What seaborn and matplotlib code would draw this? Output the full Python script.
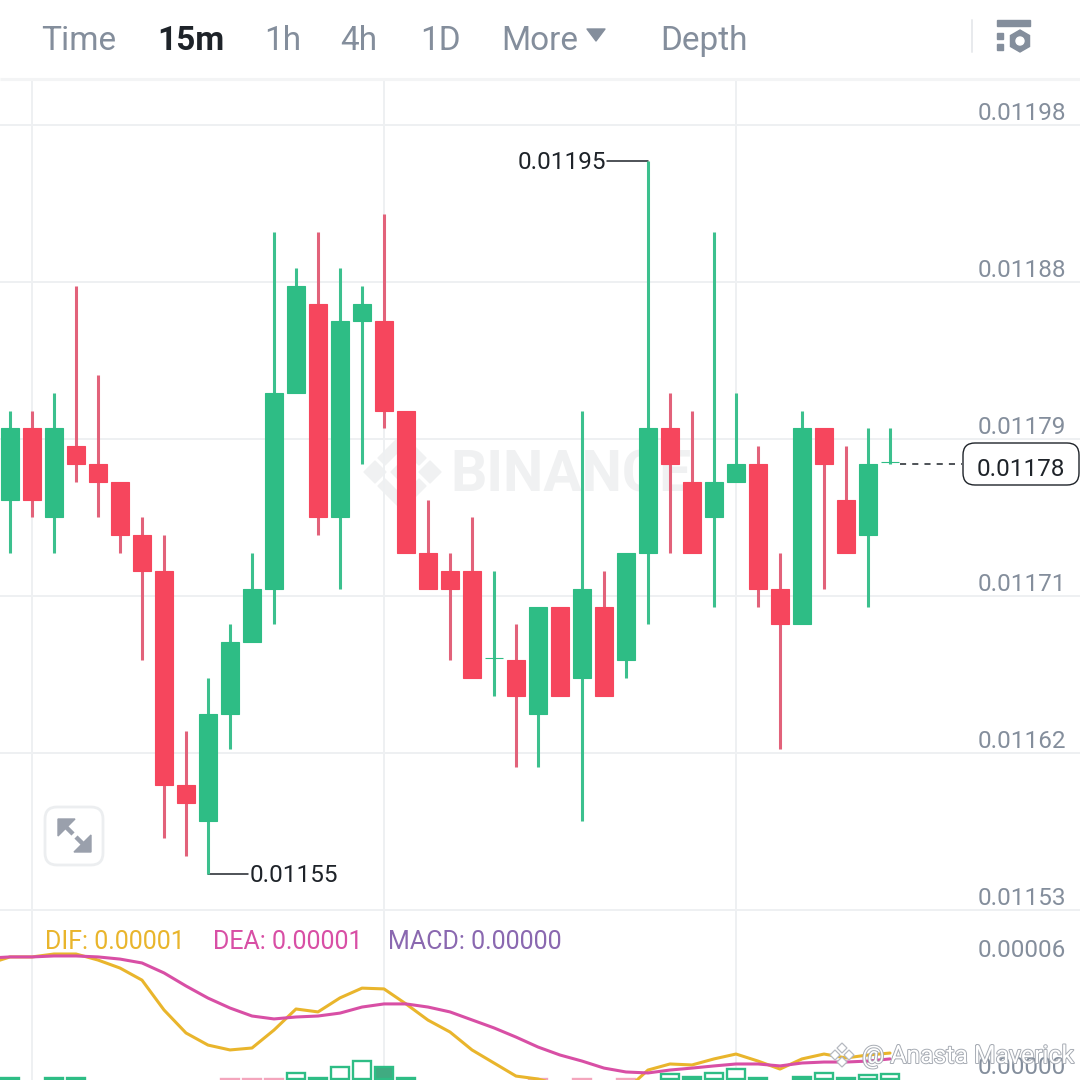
import numpy as np
import pandas as pd
import seaborn as sns
import matplotlib.pyplot as plt
import matplotlib.patheffects as pe
from matplotlib.patches import FancyBboxPatch, Polygon, Rectangle, RegularPolygon, Circle

# candles, in units of 0.00001
opens = [1176, 1180, 1175, 1179, 1178, 1177, 1174, 1172, 1160, 1158, 1164, 1168, 1171, 1182, 1187, 1175, 1186, 1186, 1181, 1173,
         1172, 1172, 1167.1, 1167, 1164, 1170, 1166, 1170, 1167, 1173, 1180, 1177, 1175, 1177, 1178, 1171, 1169, 1180, 1176, 1174, 1178.1]
closes = [1180, 1176, 1180, 1178, 1177, 1174, 1172, 1160, 1159, 1164, 1168, 1171, 1182, 1188, 1175, 1186, 1187, 1181, 1173, 1171,
          1171, 1166, 1167.1, 1165, 1170, 1165, 1171, 1165, 1173, 1180, 1178, 1173, 1177, 1178, 1171, 1169, 1180, 1178, 1173, 1178, 1178.1]
highs = [1181, 1181, 1182, 1188, 1183, 1177, 1175, 1174, 1163, 1166, 1169, 1173, 1191, 1189, 1191, 1189, 1188, 1192, 1181, 1176,
         1173, 1175, 1172, 1169, 1170, 1170, 1181, 1172, 1173, 1195, 1182, 1181, 1191, 1182, 1179, 1173, 1181, 1180, 1179, 1180, 1180]
lows = [1173, 1175, 1173, 1177, 1175, 1173, 1167, 1157, 1156, 1155, 1162, 1168, 1169, 1182, 1174, 1171, 1178, 1180, 1173, 1171,
        1167, 1166, 1165, 1161, 1161, 1165, 1158, 1165, 1166, 1169, 1173, 1173, 1170, 1177, 1170, 1162, 1169, 1171, 1173, 1170, 1178]

# macd panel, in units of 0.00001, first point sits just left of the picture
dif_vals = [5.90, 6.26, 6.26, 6.41, 6.41, 6.10, 5.69, 5.07, 3.54, 2.36, 1.74, 1.49, 1.59, 2.51, 3.59, 3.44, 4.16, 4.66, 4.62, 3.85, 3.02,
            2.41, 1.49, 0.82, 0.15, 0.00, -0.31, -0.56, -0.67, -0.56, 0.46, 0.77, 0.72, 1.03, 1.28, 0.92, 0.51, 1.03, 1.28, 1.08, 1.23, 1.33]
dea_vals = [6.20, 6.26, 6.26, 6.31, 6.31, 6.26, 6.15, 5.95, 5.44, 4.77, 4.15, 3.64, 3.23, 3.08, 3.18, 3.23, 3.38, 3.69, 3.85, 3.85, 3.69,
            3.44, 3.03, 2.62, 2.15, 1.64, 1.23, 0.92, 0.56, 0.36, 0.31, 0.46, 0.56, 0.67, 0.77, 0.77, 0.67, 0.82, 0.87, 0.87, 0.92, 1.03]
macd_idx = list(range(-1, 41))

hist_idx = [0, 2, 3, 10, 11, 12, 13, 14, 15, 16, 17, 18, 24, 26, 28, 30, 31, 32, 33, 34, 36, 37, 38, 39, 40]
hist_vals = [0.05, 0.05, 0.03, -0.5, -0.5, -0.5, 0.31, 0.05, 0.62, 0.92, 0.62, 0.03, -0.5, -0.5, -0.5,
             0.26, 0.10, 0.31, 0.51, 0.05, 0.10, 0.31, 0.03, 0.21, 0.26]
hist_kind = ['solid', 'solid', 'hollow', 'down', 'down', 'down', 'hollow', 'solid', 'hollow', 'hollow', 'solid', 'hollow', 'down', 'down', 'down',
             'hollow', 'solid', 'hollow', 'hollow', 'solid', 'hollow', 'hollow', 'solid', 'hollow', 'hollow']

price_ticks = [1197.02, 1188.21, 1179.40, 1170.60, 1161.79, 1152.98]
price_labels = ['0.01198', '0.01188', '0.01179', '0.01171', '0.01162', '0.01153']
macd_ticks = [6, 0]
macd_labels = ['0.00006', '0.00000']
grid_idx = [1, 17, 33]

menu_items = ['Time', '15m', '1h', '4h', '1D', 'More', 'Depth']
menu_x = [41, 157, 264, 340, 420, 501, 660]

GREEN, RED = '#2ebd85', '#f6465d'
GREEN_WICK, RED_WICK = '#3cc08e', '#e2627a'
GRAY, DARK, GRID = '#848e9c', '#1e2329', '#eef0f2'
FONT_SIZE = 17.5

sns.set_theme(style='white')
plt.rcParams['font.family'] = ['Roboto', 'DejaVu Sans']

fig = plt.figure(figsize=(10.8, 10.8), dpi=100)
fig.patch.set_facecolor('white')


def px_axes(top, bottom, zorder):
    a = fig.add_axes([0, 1 - bottom / 1080, 1, (bottom - top) / 1080], zorder=zorder)
    a.patch.set_alpha(0)
    for s in a.spines.values():
        s.set_visible(False)
    return a


# layers: watermark under the chart, buttons and labels over it
under = px_axes(0, 1080, 0)
ax = px_axes(80, 910, 1)
ax_macd = px_axes(910, 1080, 1)
ui = px_axes(0, 1080, 3)
for a in (under, ui):
    a.set_xlim(0, 1080)
    a.set_ylim(1080, 0)
    a.axis('off')

# ---- candles
o, c = np.array(opens) / 1e5, np.array(closes) / 1e5
h, l = np.array(highs) / 1e5, np.array(lows) / 1e5
idx = np.arange(len(o))
up = c >= o
ax.vlines(idx[up], l[up], h[up], color=GREEN_WICK, lw=2.2, zorder=3)
ax.vlines(idx[~up], l[~up], h[~up], color=RED_WICK, lw=2.2, zorder=3)
colors = np.where(up, GREEN, RED)
ax.bar(idx, np.abs(c - o), bottom=np.minimum(o, c), width=0.86, color=colors, edgecolor=colors, lw=0.8, zorder=4)

# high / low / last markers
hi = int(np.argmax(h))
lo = int(np.argmin(l))
ax.plot([hi - 1.86, hi], [h[hi], h[hi]], color=DARK, lw=1.1, zorder=2)
ax.plot([lo, lo + 1.82], [l[lo], l[lo]], color=DARK, lw=1.1, zorder=2)
ax.text(hi - 1.9, h[hi] - 0.000001, f'{h[hi]:.5f}', color=DARK, fontsize=FONT_SIZE, ha='right', va='center')
ax.text(lo + 1.9, l[lo] - 0.000001, f'{l[lo]:.5f}', color=DARK, fontsize=FONT_SIZE, ha='left', va='center')
ax.plot([idx[-1] + 0.45, 43.25], [c[-1] - 0.000001, c[-1] - 0.000001], color=DARK, lw=1.1, ls=(0, (4, 4)), zorder=2)

ax.set_xlim(-10 / 22, 1070 / 22)
ax.set_ylim(1152.98 / 1e5, 1199.54 / 1e5)
ax.set_yticks(np.array(price_ticks) / 1e5, price_labels)
ax.set_xticks(grid_idx, [''] * len(grid_idx))
ax.yaxis.tick_right()
ax.grid(True, color=GRID, lw=1.4)
ax.set_axisbelow(True)

# ---- macd panel
df_hist = pd.DataFrame({'pos': hist_idx, 'val': hist_vals, 'kind': hist_kind})
sns.barplot(data=df_hist, x='pos', y='val', hue='kind', hue_order=['solid', 'hollow', 'down'], dodge=False,
            native_scale=True, errorbar=None, legend=False, width=0.82, ax=ax_macd, zorder=2,
            palette={'solid': GREEN, 'hollow': 'white', 'down': 'white'})
for bars, edge in zip(ax_macd.containers, [GREEN, GREEN, '#f4a6bd']):
    plt.setp(bars, edgecolor=edge, linewidth=1.7)
sns.lineplot(x=macd_idx, y=dif_vals, color='#e9b52c', lw=2.2, ax=ax_macd, zorder=4)
sns.lineplot(x=macd_idx, y=dea_vals, color='#d84fa5', lw=2.2, ax=ax_macd, zorder=5)

ax_macd.set_xlim(-10 / 22, 1070 / 22)
ax_macd.set_ylim(-1 / 19.5, 169 / 19.5)
ax_macd.set_yticks(macd_ticks, macd_labels)
ax_macd.set_xticks(grid_idx, [''] * len(grid_idx))
ax_macd.set_xlabel('')
ax_macd.set_ylabel('')
ax_macd.yaxis.tick_right()
ax_macd.grid(True, axis='x', color=GRID, lw=1.4)
ax_macd.grid(False, axis='y')
ax_macd.set_axisbelow(True)
ax_macd.spines['top'].set_visible(True)
ax_macd.spines['top'].set_color(GRID)
ax_macd.spines['top'].set_linewidth(1.4)

# price scale text sits inside the plot, on top of each grid line
for a in (ax, ax_macd):
    a.tick_params(axis='y', length=0, pad=-10, labelsize=FONT_SIZE, labelcolor=GRAY)
    a.tick_params(axis='x', length=0)
    plt.setp(a.get_yticklabels(), ha='right', va='bottom')

for x, txt, col in [(45, 'DIF: 0.00001', '#e9b52c'), (213, 'DEA: 0.00001', '#d84fa5'), (388, 'MACD: 0.00000', '#8a68b0')]:
    ui.text(x, 942, txt, color=col, fontsize=18, ha='left', va='center')

# ---- watermark
wm = '#f0f1f2'
under.text(450, 476, 'BINANCE', color=wm, fontsize=41, fontweight='bold', ha='left', va='center')
for cx in (375, 402, 430):
    under.add_patch(RegularPolygon((cx, 472), 4, radius=11, color=wm))
under.add_patch(Polygon([(402, 448), (385, 465), (378, 458), (402, 434), (426, 458), (419, 465)], color=wm))
under.add_patch(Polygon([(402, 496), (385, 479), (378, 486), (402, 510), (426, 486), (419, 479)], color=wm))

# ---- header
ui.plot([0, 1080], [79, 79], color='#f3f4f5', lw=2.2, solid_capstyle='butt')
for x, txt in zip(menu_x, menu_items):
    active = txt == '15m'
    ui.text(x, 41, txt, color=DARK if active else GRAY, fontsize=24, fontweight='bold' if active else 'normal',
            ha='left', va='center')
ui.add_patch(Polygon([(587, 29), (605, 29), (596, 41)], color=GRAY, lw=1, joinstyle='round'))
ui.plot([972, 972], [20, 52], color='#e8eaed', lw=1.4)
ui.add_patch(Rectangle((997, 20), 33, 6, color=GRAY))
ui.add_patch(Rectangle((997, 33), 6, 6, color=GRAY))
ui.add_patch(Rectangle((997, 44), 6, 6, color=GRAY))
ui.add_patch(RegularPolygon((1020, 41), 6, radius=11, color=GRAY))
ui.add_patch(Circle((1020, 41), 4, color='white'))

# ---- expand button
ui.add_patch(FancyBboxPatch((57, 819), 34, 34, boxstyle='round,pad=12,rounding_size=12',
                            fc='white', ec='#eceef0', lw=2))
ui.add_patch(Polygon([(58, 819), (75, 819), (58, 836)], color='#9aa0ac'))
ui.add_patch(Polygon([(91, 852), (74, 852), (91, 835)], color='#9aa0ac'))
ui.plot([64, 73], [825, 834], color='#9aa0ac', lw=3.2, solid_capstyle='butt')
ui.plot([76, 85], [837, 846], color='#9aa0ac', lw=3.2, solid_capstyle='butt')

# ---- last price box
ui.add_patch(FancyBboxPatch((975, 455), 92, 18, boxstyle='round,pad=12,rounding_size=12',
                            fc='white', ec=DARK, lw=1.0))
ui.text(1021, 469, '0.01178', color=DARK, fontsize=FONT_SIZE, ha='center', va='center')

# ---- author stamp
stroke = [pe.withStroke(linewidth=1.4, foreground='#a7acb4')]
ui.text(862, 1056, '@ Anasta Maverick', color='white', fontsize=17.8, ha='left', va='center', path_effects=stroke)
for dx, dy in [(0, -7), (-7, 0), (7, 0), (0, 7)]:
    ui.add_patch(RegularPolygon((842 + dx, 1055 + dy), 4, radius=5, fc='white', ec='#b5b9c0', lw=0.9))

plt.savefig('out.png', dpi=100)
